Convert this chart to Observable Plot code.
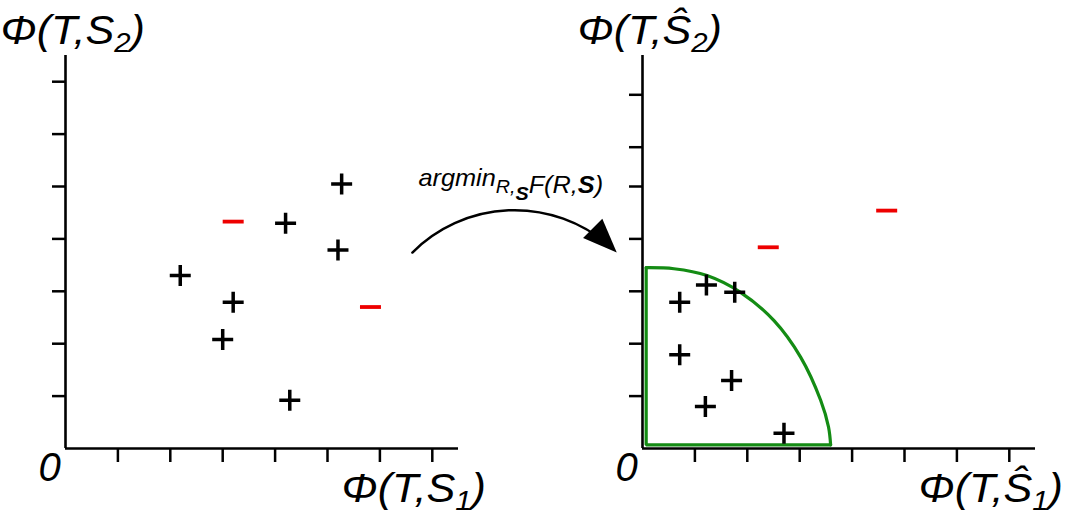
<!DOCTYPE html>
<html><head><meta charset="utf-8">
<script src="https://cdn.jsdelivr.net/npm/d3@7"></script>
<script src="https://cdn.jsdelivr.net/npm/@observablehq/plot@0.6"></script>
<style>
html,body{margin:0;padding:0;background:#fff;}
#chart{position:relative;width:1065px;height:516px;overflow:hidden;background:#fff;}
#chart svg{position:absolute;left:0;top:0;}
</style></head><body><div id="chart"></div>
<script>
// ---------- data ----------
const xTicks = [1, 2, 3, 4, 5, 6, 7];
const leftYTicks = [1, 2, 3, 4, 5, 6, 7];
const rightYTicks = [1, 2, 3, 4, 5, 5.75, 6.75];

const leftPlusX = [5.27, 4.20, 5.20, 2.19, 3.20, 3.00, 4.28];
const leftPlusY = [5.05, 4.30, 3.79, 3.30, 2.79, 2.08, 0.92];
const leftMinusX = [3.20, 5.82];
const leftMinusY = [4.33, 2.70];

const rightPlusX = [0.71, 1.22, 1.76, 0.71, 1.70, 1.20, 2.70];
const rightPlusY = [2.79, 3.12, 2.98, 1.79, 1.30, 0.80, 0.29];
const rightMinusX = [2.40, 4.66];
const rightMinusY = [3.84, 4.54];

// green region: straight edges and the curved boundary
const edgeX = [0.07, 0.07, 3.59];
const edgeY = [3.45, 0.07, 0.07];
const arcX = [0.07, 0.60, 1.23, 1.87, 2.51, 3.02, 3.40, 3.55, 3.59];
const arcY = [3.45, 3.43, 3.30, 2.98, 2.44, 1.74, 0.92, 0.41, 0.07];

// arrow between the panels (in left-panel units)
const arrowFrom = [6.62, 3.74];
const arrowTo = [10.52, 3.74];

const labels = {
  leftY: "Φ(T,S_{2})",
  leftX: "Φ(T,S_{1})",
  rightY: "Φ(T,Ŝ_{2})",
  rightX: "Φ(T,Ŝ_{1})",
  origin: "0",
  arrow: "argmin_{R,*S*}F(R,*S*)"
};

// ---------- styling ----------
const W = 1065, H = 516;
const FONT = "Liberation Sans, Arial, Helvetica, sans-serif";
const RED = "#ee0000";
const GREEN = "#148c14";
const LABEL_SIZE = 40;
const LABEL_STRETCH = 1.08;
const ARG_SIZE = 23;
const ARG_STRETCH = 1.1;

const plusSymbol = {draw(ctx, size) { const r = Math.sqrt(size / Math.PI);
  ctx.moveTo(-r, 0); ctx.lineTo(r, 0); ctx.moveTo(0, -r); ctx.lineTo(0, r); }};
const minusSymbol = {draw(ctx, size) { const r = Math.sqrt(size / Math.PI);
  ctx.moveTo(-r, 0); ctx.lineTo(r, 0); }};
const headSymbol = {draw(ctx, size) { const r = Math.sqrt(size / Math.PI);
  ctx.moveTo(0, 0); ctx.lineTo(-r, -0.4 * r); ctx.lineTo(-r, 0.4 * r); ctx.closePath(); }};

const idx = (a) => a.map((_, i) => i);

function axes(yTicks) {
  return [
    Plot.ruleY([0], {stroke: "black", strokeWidth: 2.6}),
    Plot.ruleX([0], {stroke: "black", strokeWidth: 2.6}),
    Plot.axisX(xTicks, {anchor: "bottom", tickSize: 14, tickFormat: () => "", label: null, strokeWidth: 2.5}),
    Plot.axisY(yTicks, {anchor: "left", tickSize: 13, tickFormat: () => "", label: null, strokeWidth: 2.5})
  ];
}

function points(px, py, mx, my) {
  return [
    Plot.dot(idx(px), {x: (i) => px[i], y: (i) => py[i], symbol: plusSymbol, r: 10.5,
      fill: "none", stroke: "black", strokeWidth: 3.5}),
    Plot.dot(idx(mx), {x: (i) => mx[i], y: (i) => my[i], symbol: minusSymbol, r: 10.5,
      fill: "none", stroke: RED, strokeWidth: 3.8})
  ];
}

function labelMarks(yLab, xLab) {
  const t = {fontFamily: FONT, fontStyle: "italic", fill: "black", lineAnchor: "middle"};
  return [
    Plot.text([yLab], {...t, frameAnchor: "top-left", textAnchor: "start", fontSize: LABEL_SIZE, dx: -65, dy: -24, className: "rich-label"}),
    Plot.text([xLab], {...t, frameAnchor: "bottom-right", textAnchor: "start", fontSize: LABEL_SIZE, dx: -117, dy: 41, className: "rich-label"}),
    Plot.text([labels.origin], {...t, frameAnchor: "bottom-left", textAnchor: "middle", fontSize: 40, dx: -16, dy: 20})
  ];
}

const base = {
  width: W, height: H, marginTop: 55, marginBottom: 68,
  x: {domain: [0, 7.5]}, y: {domain: [0, 7.5]},
  style: {background: "transparent", overflow: "visible", fontFamily: FONT}
};

const left = Plot.plot({
  ...base, marginLeft: 65, marginRight: 607,
  marks: [
    ...axes(leftYTicks),
    ...points(leftPlusX, leftPlusY, leftMinusX, leftMinusY),
    ...labelMarks(labels.leftY, labels.leftX),
    Plot.arrow([0], {x1: arrowFrom[0], y1: arrowFrom[1], x2: arrowTo[0], y2: arrowTo[1],
      bend: 45, headLength: 0, insetEnd: 12, stroke: "black", strokeWidth: 2.5}),
    Plot.dot([0], {x: arrowTo[0], y: arrowTo[1], symbol: headSymbol, r: 34, rotate: 45, fill: "black", stroke: "none"}),
    Plot.text([labels.arrow], {frameAnchor: "top-left", lineAnchor: "middle", textAnchor: "start", fontFamily: FONT, fontStyle: "italic",
      fontSize: ARG_SIZE, dx: 353, dy: 123, className: "rich-arg"})
  ]
});

const right = Plot.plot({
  ...base, marginLeft: 642, marginRight: 30,
  marks: [
    Plot.line(idx(edgeX), {x: (i) => edgeX[i], y: (i) => edgeY[i], stroke: GREEN, strokeWidth: 3.2, strokeLinejoin: "miter"}),
    Plot.line(idx(arcX), {x: (i) => arcX[i], y: (i) => arcY[i], stroke: GREEN, strokeWidth: 3.2, curve: "catmull-rom"}),
    ...axes(rightYTicks),
    ...points(rightPlusX, rightPlusY, rightMinusX, rightMinusY),
    ...labelMarks(labels.rightY, labels.rightX)
  ]
});

const chart = document.getElementById("chart");
chart.appendChild(left);
chart.appendChild(right);

// rich text: subscripts (_{...}) and bold (*...*)
function parseRich(s) {
  const segs = []; let buf = "", sub = false, bold = false;
  const push = () => { if (buf) segs.push({t: buf, sub, bold}); buf = ""; };
  for (let i = 0; i < s.length; i++) {
    if (s[i] === "_" && s[i + 1] === "{") { push(); sub = true; i++; }
    else if (s[i] === "}" && sub) { push(); sub = false; }
    else if (s[i] === "*") { push(); bold = !bold; }
    else buf += s[i];
  }
  push();
  return segs;
}
function richify(svg, subScale, subShift, stretch, selector) {
  d3.select(svg).selectAll(selector + " text").each(function() {
    const s = this.textContent;
    const fs = parseFloat(getComputedStyle(this).fontSize);
    const segs = parseRich(s);
    const el = d3.select(this);
    el.text(null);
    let down = false;
    for (const g of segs) {
      const ts = el.append("tspan").text(g.t);
      if (g.bold) ts.attr("font-weight", "bold");
      if (g.sub) { ts.attr("font-size", fs * subScale); ts.attr("dy", subShift * fs); down = true; }
      else if (down) { ts.attr("dy", -subShift * fs); down = false; }
    }
    const tr = el.attr("transform") || "";
    el.attr("transform", tr + ` scale(${stretch},1)`);
  });
}
richify(left, 0.68, 0.2, LABEL_STRETCH, ".rich-label");
richify(right, 0.68, 0.2, LABEL_STRETCH, ".rich-label");
richify(left, 0.78, 0.3, ARG_STRETCH, ".rich-arg");
</script>
</body></html>
